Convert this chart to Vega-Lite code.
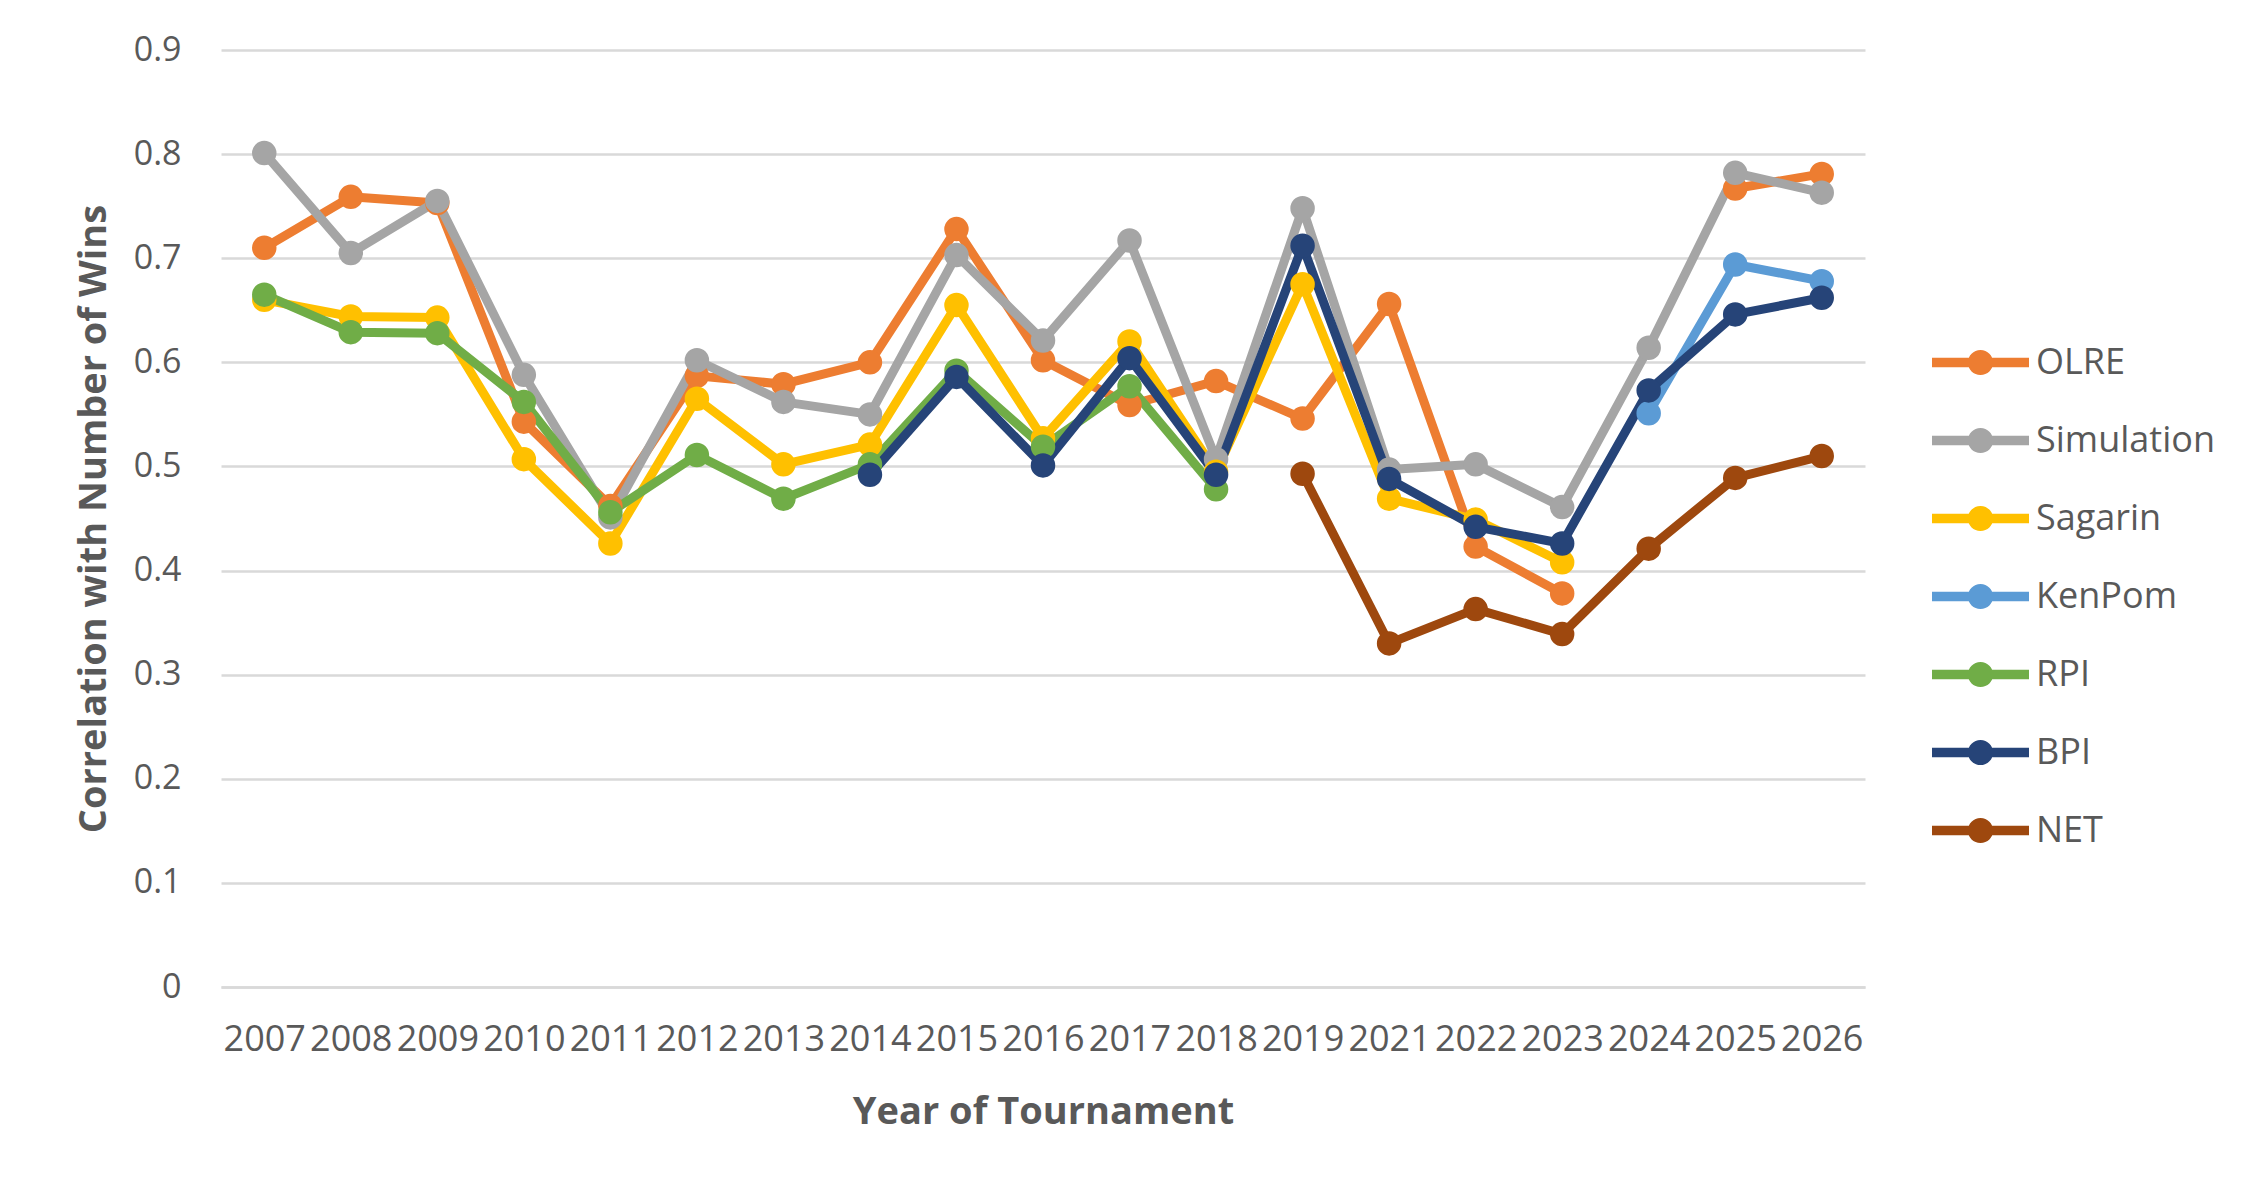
{
  "$schema": "https://vega.github.io/schema/vega-lite/v6.json",
  "width": 1644,
  "height": 937,
  "autosize": {"type": "none"},
  "padding": {"left": 221, "top": 50, "right": 397, "bottom": 205},
  "background": "white",
  "data": {
    "values": [
      {"year": "2007", "series": "OLRE", "value": 0.710},
      {"year": "2008", "series": "OLRE", "value": 0.759},
      {"year": "2009", "series": "OLRE", "value": 0.753},
      {"year": "2010", "series": "OLRE", "value": 0.543},
      {"year": "2011", "series": "OLRE", "value": 0.462},
      {"year": "2012", "series": "OLRE", "value": 0.587},
      {"year": "2013", "series": "OLRE", "value": 0.579},
      {"year": "2014", "series": "OLRE", "value": 0.600},
      {"year": "2015", "series": "OLRE", "value": 0.728},
      {"year": "2016", "series": "OLRE", "value": 0.602},
      {"year": "2017", "series": "OLRE", "value": 0.559},
      {"year": "2018", "series": "OLRE", "value": 0.582},
      {"year": "2019", "series": "OLRE", "value": 0.546},
      {"year": "2021", "series": "OLRE", "value": 0.656},
      {"year": "2022", "series": "OLRE", "value": 0.423},
      {"year": "2023", "series": "OLRE", "value": 0.378},
      {"year": "2024", "series": "OLRE", "value": null},
      {"year": "2025", "series": "OLRE", "value": 0.767},
      {"year": "2026", "series": "OLRE", "value": 0.781},

      {"year": "2007", "series": "Simulation", "value": 0.801},
      {"year": "2008", "series": "Simulation", "value": 0.705},
      {"year": "2009", "series": "Simulation", "value": 0.755},
      {"year": "2010", "series": "Simulation", "value": 0.588},
      {"year": "2011", "series": "Simulation", "value": 0.451},
      {"year": "2012", "series": "Simulation", "value": 0.602},
      {"year": "2013", "series": "Simulation", "value": 0.562},
      {"year": "2014", "series": "Simulation", "value": 0.550},
      {"year": "2015", "series": "Simulation", "value": 0.703},
      {"year": "2016", "series": "Simulation", "value": 0.621},
      {"year": "2017", "series": "Simulation", "value": 0.717},
      {"year": "2018", "series": "Simulation", "value": 0.507},
      {"year": "2019", "series": "Simulation", "value": 0.748},
      {"year": "2021", "series": "Simulation", "value": 0.497},
      {"year": "2022", "series": "Simulation", "value": 0.502},
      {"year": "2023", "series": "Simulation", "value": 0.461},
      {"year": "2024", "series": "Simulation", "value": 0.614},
      {"year": "2025", "series": "Simulation", "value": 0.782},
      {"year": "2026", "series": "Simulation", "value": 0.763},

      {"year": "2007", "series": "Sagarin", "value": 0.660},
      {"year": "2008", "series": "Sagarin", "value": 0.644},
      {"year": "2009", "series": "Sagarin", "value": 0.643},
      {"year": "2010", "series": "Sagarin", "value": 0.507},
      {"year": "2011", "series": "Sagarin", "value": 0.426},
      {"year": "2012", "series": "Sagarin", "value": 0.565},
      {"year": "2013", "series": "Sagarin", "value": 0.502},
      {"year": "2014", "series": "Sagarin", "value": 0.521},
      {"year": "2015", "series": "Sagarin", "value": 0.655},
      {"year": "2016", "series": "Sagarin", "value": 0.527},
      {"year": "2017", "series": "Sagarin", "value": 0.620},
      {"year": "2018", "series": "Sagarin", "value": 0.495},
      {"year": "2019", "series": "Sagarin", "value": 0.675},
      {"year": "2021", "series": "Sagarin", "value": 0.469},
      {"year": "2022", "series": "Sagarin", "value": 0.449},
      {"year": "2023", "series": "Sagarin", "value": 0.408},

      {"year": "2024", "series": "KenPom", "value": 0.551},
      {"year": "2025", "series": "KenPom", "value": 0.694},
      {"year": "2026", "series": "KenPom", "value": 0.678},

      {"year": "2007", "series": "RPI", "value": 0.665},
      {"year": "2008", "series": "RPI", "value": 0.629},
      {"year": "2009", "series": "RPI", "value": 0.628},
      {"year": "2010", "series": "RPI", "value": 0.562},
      {"year": "2011", "series": "RPI", "value": 0.456},
      {"year": "2012", "series": "RPI", "value": 0.511},
      {"year": "2013", "series": "RPI", "value": 0.469},
      {"year": "2014", "series": "RPI", "value": 0.502},
      {"year": "2015", "series": "RPI", "value": 0.592},
      {"year": "2016", "series": "RPI", "value": 0.519},
      {"year": "2017", "series": "RPI", "value": 0.577},
      {"year": "2018", "series": "RPI", "value": 0.478},

      {"year": "2014", "series": "BPI", "value": 0.492},
      {"year": "2015", "series": "BPI", "value": 0.586},
      {"year": "2016", "series": "BPI", "value": 0.501},
      {"year": "2017", "series": "BPI", "value": 0.604},
      {"year": "2018", "series": "BPI", "value": 0.492},
      {"year": "2019", "series": "BPI", "value": 0.712},
      {"year": "2021", "series": "BPI", "value": 0.488},
      {"year": "2022", "series": "BPI", "value": 0.442},
      {"year": "2023", "series": "BPI", "value": 0.426},
      {"year": "2024", "series": "BPI", "value": 0.573},
      {"year": "2025", "series": "BPI", "value": 0.646},
      {"year": "2026", "series": "BPI", "value": 0.662},

      {"year": "2019", "series": "NET", "value": 0.493},
      {"year": "2021", "series": "NET", "value": 0.330},
      {"year": "2022", "series": "NET", "value": 0.363},
      {"year": "2023", "series": "NET", "value": 0.339},
      {"year": "2024", "series": "NET", "value": 0.421},
      {"year": "2025", "series": "NET", "value": 0.489},
      {"year": "2026", "series": "NET", "value": 0.510}
    ]
  },
  "mark": {
    "type": "line",
    "strokeWidth": 9,
    "strokeJoin": "round",
    "strokeCap": "round",
    "point": {"filled": true, "size": 600, "opacity": 1}
  },
  "encoding": {
    "x": {
      "field": "year",
      "type": "ordinal",
      "scale": {"type": "point", "padding": 0.5},
      "axis": {
        "title": "Year of Tournament",
        "labelAngle": 0,
        "labelFontSize": 36,
        "labelPadding": 35,
        "labelColor": "#595959",
        "labelFont": "Open Sans",
        "labelOverlap": false,
        "ticks": false,
        "domain": true,
        "domainColor": "#D9D9D9",
        "domainWidth": 2.5,
        "titleFont": "Open Sans",
        "titleFontSize": 38,
        "titleFontWeight": "bold",
        "titleColor": "#595959",
        "titlePadding": 36
      }
    },
    "y": {
      "field": "value",
      "type": "quantitative",
      "scale": {"domain": [0, 0.9], "nice": false},
      "axis": {
        "title": "Correlation with Number of Wins",
        "values": [0, 0.1, 0.2, 0.3, 0.4, 0.5, 0.6, 0.7, 0.8, 0.9],
        "format": ".1~f",
        "labelFontSize": 34,
        "labelPadding": 40,
        "labelColor": "#595959",
        "labelFont": "Open Sans",
        "ticks": false,
        "domain": false,
        "gridColor": "#D9D9D9",
        "gridWidth": 2.5,
        "titleFont": "Open Sans",
        "titleFontSize": 38,
        "titleFontWeight": "bold",
        "titleColor": "#595959",
        "titlePadding": 20
      }
    },
    "color": {
      "field": "series",
      "type": "nominal",
      "sort": ["OLRE", "Simulation", "Sagarin", "KenPom", "RPI", "BPI", "NET"],
      "scale": {
        "domain": ["OLRE", "Simulation", "Sagarin", "KenPom", "RPI", "BPI", "NET"],
        "range": ["#ED7D31", "#A5A5A5", "#FFC000", "#5B9BD5", "#70AD47", "#264478", "#9E480E"]
      },
      "legend": {
        "title": null,
        "orient": "none",
        "legendX": 1711,
        "legendY": 264,
        "symbolType": "M-1,-0.096L1,-0.096L1,0.096L-1,0.096Z M0.26,0A0.26,0.26,0,1,1,-0.26,0A0.26,0.26,0,1,1,0.26,0Z",
        "symbolSize": 9409,
        "symbolStrokeWidth": 0,
        "labelFontSize": 36,
        "labelFont": "Open Sans",
        "labelColor": "#595959",
        "labelOffset": 7,
        "labelLimit": 400,
        "rowPadding": 11,
        "encode": {
          "symbols": {
            "update": {
              "fill": {"scale": "color", "field": "value"},
              "opacity": {"value": 1}
            }
          }
        }
      }
    },
    "order": {"field": "year"}
  },
  "config": {
    "view": {"stroke": null}
  }
}
